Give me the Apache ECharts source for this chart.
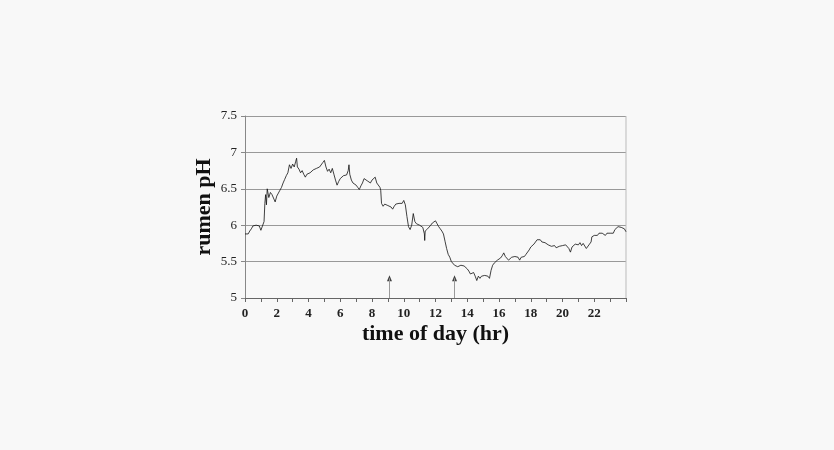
<!DOCTYPE html>
<html>
<head>
<meta charset="utf-8">
<script src="https://cdn.jsdelivr.net/npm/echarts@6/dist/echarts.min.js"></script>
<style>
html,body{margin:0;padding:0;background:#f8f8f8;}
#c{width:834px;height:450px;}
</style>
</head>
<body>
<div id="c"></div>
<script>
var hours = [0.0,0.1,0.2,0.3,0.4,0.5,0.6,0.7,0.8,0.9,1.0,1.1,1.2,1.25,1.3,1.35,1.4,1.5,1.6,1.7,1.8,1.9,2.0,2.1,2.2,2.3,2.4,2.5,2.6,2.7,2.8,2.9,3.0,3.1,3.2,3.25,3.3,3.4,3.5,3.6,3.7,3.8,3.9,4.0,4.1,4.2,4.3,4.4,4.5,4.6,4.7,4.8,4.9,5.0,5.1,5.2,5.3,5.4,5.5,5.6,5.7,5.8,5.9,6.0,6.1,6.2,6.3,6.4,6.5,6.55,6.6,6.7,6.8,6.9,7.0,7.1,7.2,7.3,7.4,7.5,7.6,7.7,7.8,7.9,8.0,8.1,8.2,8.3,8.4,8.5,8.55,8.6,8.7,8.8,8.9,9.0,9.1,9.2,9.3,9.4,9.5,9.6,9.7,9.8,9.9,10.0,10.1,10.2,10.3,10.4,10.5,10.6,10.7,10.8,10.9,11.0,11.1,11.2,11.3,11.32,11.35,11.5,11.6,11.7,11.8,11.9,12.0,12.1,12.2,12.3,12.4,12.5,12.6,12.7,12.8,12.9,13.0,13.1,13.2,13.3,13.4,13.5,13.6,13.7,13.8,13.9,14.0,14.1,14.2,14.3,14.4,14.5,14.6,14.7,14.8,14.9,15.0,15.1,15.2,15.3,15.4,15.5,15.6,15.7,15.8,15.9,16.0,16.1,16.2,16.3,16.4,16.5,16.6,16.7,16.8,16.9,17.0,17.1,17.2,17.3,17.4,17.5,17.6,17.7,17.8,17.9,18.0,18.1,18.2,18.3,18.4,18.5,18.6,18.7,18.8,18.9,19.0,19.1,19.2,19.3,19.4,19.5,19.6,19.7,19.8,19.9,20.0,20.1,20.2,20.3,20.4,20.5,20.6,20.7,20.8,20.9,21.0,21.1,21.2,21.3,21.4,21.5,21.6,21.7,21.8,21.85,21.9,22.0,22.1,22.2,22.3,22.4,22.5,22.6,22.7,22.8,22.9,23.0,23.1,23.2,23.3,23.4,23.5,23.6,23.7,23.8,23.9,24.0];
var rumenPH = [5.88,5.87,5.88,5.92,5.95,5.99,5.98,6.00,5.98,5.99,5.93,5.95,6.05,6.30,6.42,6.28,6.50,6.38,6.45,6.42,6.40,6.32,6.40,6.38,6.48,6.52,6.58,6.63,6.68,6.72,6.83,6.78,6.84,6.80,6.88,6.92,6.80,6.77,6.72,6.75,6.70,6.66,6.70,6.68,6.72,6.73,6.76,6.75,6.78,6.77,6.80,6.82,6.86,6.89,6.80,6.74,6.77,6.72,6.78,6.70,6.62,6.55,6.60,6.64,6.66,6.68,6.70,6.69,6.75,6.83,6.70,6.62,6.58,6.56,6.55,6.52,6.49,6.54,6.58,6.64,6.62,6.61,6.63,6.58,6.62,6.60,6.66,6.58,6.57,6.52,6.48,6.30,6.26,6.29,6.30,6.27,6.28,6.25,6.22,6.26,6.29,6.27,6.30,6.32,6.30,6.34,6.28,6.12,5.98,5.94,6.00,6.16,6.05,6.02,6.04,6.00,5.99,5.97,5.88,5.79,5.92,5.95,5.97,6.00,6.03,6.05,6.06,6.02,5.98,5.95,5.92,5.88,5.78,5.68,5.60,5.56,5.50,5.48,5.45,5.46,5.43,5.44,5.45,5.43,5.44,5.42,5.40,5.37,5.33,5.31,5.35,5.30,5.24,5.30,5.27,5.30,5.29,5.31,5.33,5.30,5.27,5.38,5.45,5.48,5.50,5.52,5.53,5.55,5.58,5.62,5.57,5.55,5.52,5.54,5.56,5.55,5.57,5.59,5.56,5.52,5.56,5.58,5.57,5.60,5.61,5.66,5.70,5.68,5.74,5.76,5.80,5.78,5.80,5.77,5.78,5.76,5.75,5.73,5.74,5.71,5.70,5.72,5.69,5.67,5.71,5.69,5.72,5.70,5.73,5.71,5.68,5.63,5.70,5.68,5.74,5.72,5.73,5.76,5.72,5.75,5.73,5.68,5.66,5.74,5.77,5.84,5.82,5.86,5.88,5.86,5.89,5.87,5.89,5.88,5.86,5.89,5.88,5.89,5.88,5.89,5.94,5.96,5.98,5.99,5.97,5.98,5.95,5.91];
var feedTimes = [9.1, 13.2];
var arrowTop = 5.27;
var xTickLabels = ['0','2','4','6','8','10','12','14','16','18','20','22'];

var lineData = hours.map(function(h,i){ return [h, rumenPH[i]]; });
var arrowLines = feedTimes.map(function(t){ return [{coord:[t,5]},{coord:[t,arrowTop]}]; });
var arrowHeads = feedTimes.map(function(t){ return [t, arrowTop]; });

var chart = echarts.init(document.getElementById('c'));
chart.setOption({
  backgroundColor:'#f8f8f8',
  animation:false,
  grid:{left:245,right:208,top:116,bottom:152},
  xAxis:{
    type:'value', min:0, max:24, interval:1,
    name:'time of day (hr)', nameLocation:'middle', nameGap:25,
    nameTextStyle:{fontFamily:'Liberation Serif',fontWeight:'bold',fontSize:22,color:'#111'},
    axisLine:{show:true,lineStyle:{color:'#666',width:1}},
    axisTick:{show:true,length:4,inside:false,lineStyle:{color:'#666'}},
    axisLabel:{margin:9,fontFamily:'Liberation Serif',fontWeight:'bold',fontSize:13,color:'#222',
      formatter:function(v){ var s=String(v); return xTickLabels.indexOf(s)>=0 ? s : ''; }},
    splitLine:{show:false}
  },
  yAxis:{
    type:'value', min:5, max:7.5, interval:0.5,
    name:'rumen pH', nameLocation:'middle', nameGap:30,
    nameTextStyle:{fontFamily:'Liberation Serif',fontWeight:'bold',fontSize:22,color:'#111'},
    axisLine:{show:true,lineStyle:{color:'#888',width:1}},
    axisTick:{show:true,length:4,lineStyle:{color:'#888'}},
    axisLabel:{margin:8,fontFamily:'Liberation Serif',fontSize:13,color:'#222'},
    splitLine:{show:true,lineStyle:{color:'#999',width:1}}
  },
  series:[
    {
      type:'line', data:lineData, showSymbol:false, symbol:'none',
      lineStyle:{color:'#111',width:0.8}, z:3,
      markLine:{
        silent:true, symbol:['none','none'],
        label:{show:false},
        lineStyle:{color:'#999',width:1,type:'solid'},
        data:arrowLines
      }
    },
    {
      type:'scatter', data:arrowHeads, symbol:'triangle', symbolSize:[5,6],
      itemStyle:{color:'#111'}, silent:true, z:4
    },
    {
      type:'line', data:[[24,5],[24,7.5]], showSymbol:false, symbol:'none',
      lineStyle:{color:'#bbb',width:1}, silent:true, z:1
    }
  ]
});
</script>
</body>
</html>
